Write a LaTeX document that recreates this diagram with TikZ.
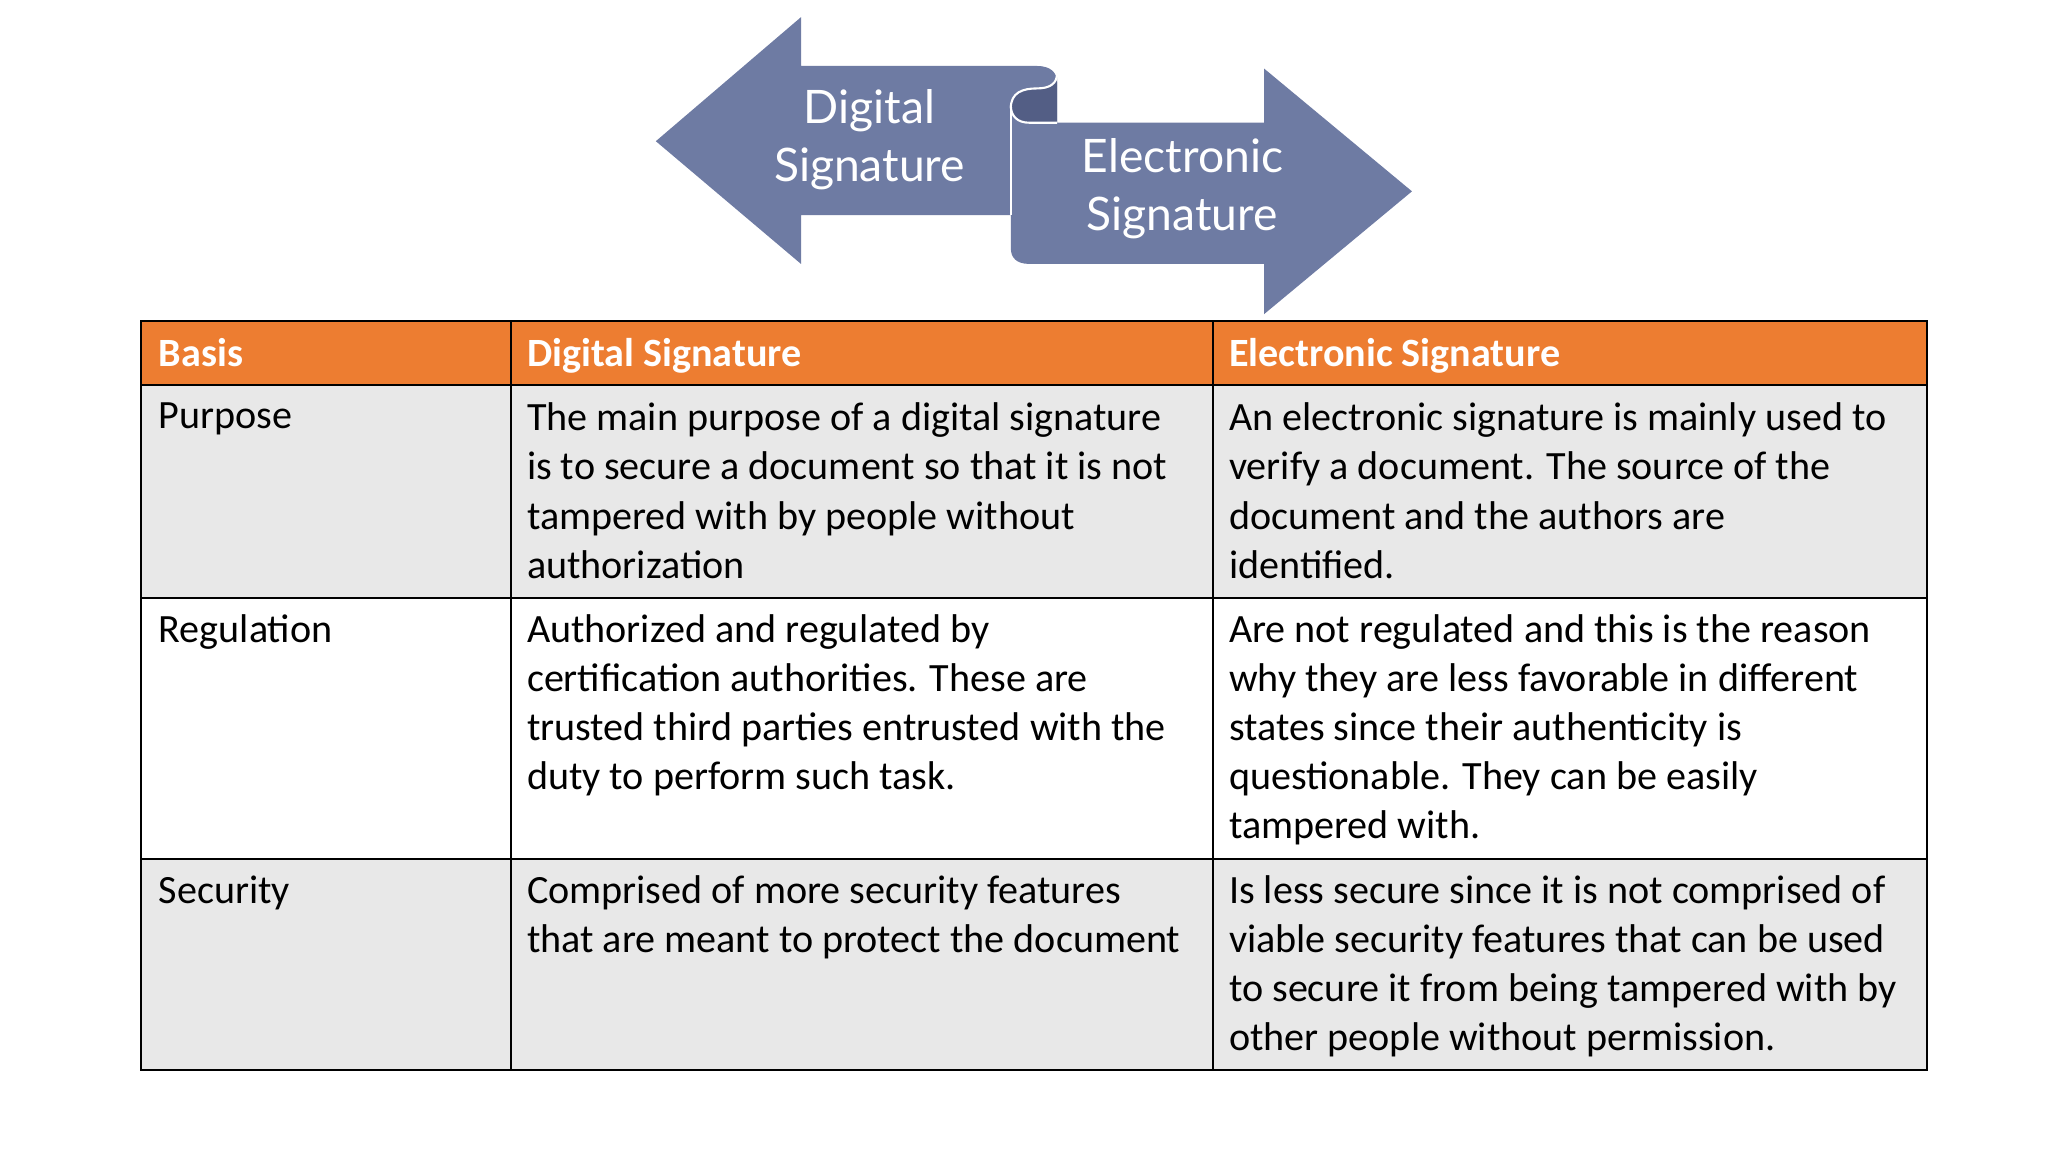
\documentclass[tikz,border=0pt]{standalone}
\usepackage{fontspec}
\setmainfont{Carlito}
\newfontfamily\arrowfont{Lato}
\definecolor{arrowblue}{HTML}{6E7BA3}
\definecolor{curldark}{HTML}{535E85}
\definecolor{hdr}{HTML}{ED7D31}
\definecolor{rowgray}{HTML}{E8E8E8}
\tikzset{
  cell/.style={anchor=north west, align=left, font=\fontsize{15.2}{18.6}\selectfont, inner sep=0pt},
  hcell/.style={cell, text=white, font=\fontsize{15.2}{18.6}\selectfont\bfseries},
  arrtext/.style={text=white, align=center, font=\arrowfont\fontsize{17.5}{22}\selectfont},
  grid/.style={draw=black, line width=0.7pt}
}
\begin{document}
\begin{tikzpicture}[x=0.5pt,y=-0.5pt]
\useasboundingbox (0,0) rectangle (1552,873);
% left arrow
\fill[arrowblue] (497,107) -- (607,13) -- (607,50) -- (786,50)
  .. controls (796,50) and (801,55) .. (801,62) -- (801,163) -- (607,163) -- (607,200) -- cycle;
% right arrow
\fill[arrowblue] (766,93) -- (958,93) -- (958,52) -- (1070,145) -- (958,238) -- (958,200) -- (780,200)
  .. controls (770,200) and (766,195) .. (766,188) -- cycle;
% curl
\fill[curldark] (766,80) .. controls (766,70) and (775,67) .. (786,67) .. controls (796,67) and (801,63) .. (801,56) -- (801,93) -- (780,93) .. controls (771,93) and (766,88) .. (766,80) -- cycle;
\draw[white, line width=0.8pt] (766,82) .. controls (766,70) and (775,67) .. (786,67) .. controls (796,67) and (801,63) .. (801,56);
\draw[white, line width=0.8pt] (766,80) .. controls (766,88) and (771,93) .. (780,93) -- (801,93);
\draw[white, line width=0.8pt] (766,80) -- (766,163);
\node[arrtext] (dsig) at (659,106) {Digital\\Signature};
\node[arrtext] (esig) at (896,143) {Electronic\\Signature};
% table
\fill[hdr] (107,243) rectangle (1460,292);
\fill[rowgray] (107,292) rectangle (1460,453);
\fill[rowgray] (107,651) rectangle (1460,811);
\draw[grid] (107,243) rectangle (1460,811);
\foreach \yy in {292,453,651} \draw[grid] (107,\yy) -- (1460,\yy);
\foreach \xx in {387,919} \draw[grid] (\xx,243) -- (\xx,811);
\node[hcell] (h1) at (120,256) {Basis};
\node[hcell] (h2) at (399,256) {Digital Signature};
\node[hcell] (h3) at (931,256) {Electronic Signature};
\node[cell] (a1) at (120,305) {Purpose};
\node[cell] (a2) at (399,305) {The main purpose of a digital signature\\is to secure a document so that it is not\\tampered with by people without\\authorization};
\node[cell] (a3) at (931,305) {An electronic signature is mainly used to\\verify a document. The source of the\\document and the authors are\\identified.};
\node[cell] (b1) at (120,465) {Regulation};
\node[cell] (b2) at (399,465) {Authorized and regulated by\\certification authorities. These are\\trusted third parties entrusted with the\\duty to perform such task.};
\node[cell] (b3) at (931,465) {Are not regulated and this is the reason\\why they are less favorable in different\\states since their authenticity is\\questionable. They can be easily\\tampered with.};
\node[cell] (c1) at (120,663) {Security};
\node[cell] (c2) at (399,663) {Comprised of more security features\\that are meant to protect the document};
\node[cell] (c3) at (931,663) {Is less secure since it is not comprised of\\viable security features that can be used\\to secure it from being tampered with by\\other people without permission.};
\end{tikzpicture}
\end{document}
